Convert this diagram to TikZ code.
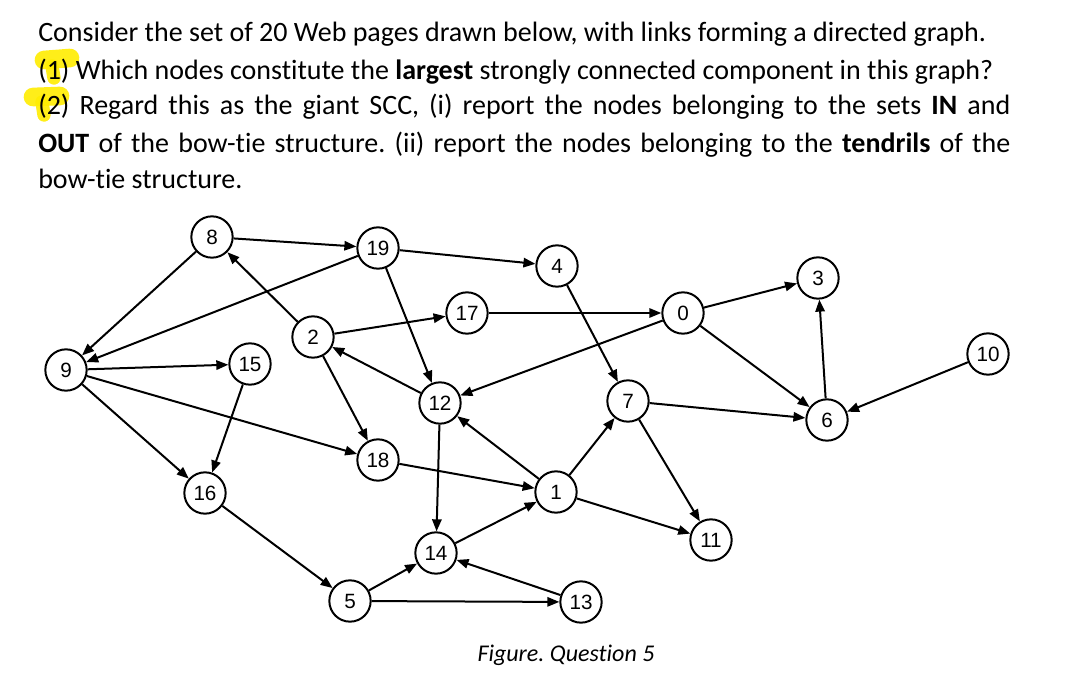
\documentclass[tikz,border=0pt]{standalone}
\usepackage{fontspec}
\setmainfont{Carlito}[Ligatures=NoCommon]
\newfontfamily\nodefont{Liberation Sans}
\usetikzlibrary{arrows.meta}
\frenchspacing
\begin{document}
\begin{tikzpicture}[x=0.75pt,y=-0.75pt,
  v/.style={circle,draw,line width=1.5pt,minimum size=31pt,inner sep=0pt,font=\nodefont\fontsize{15.5}{17}\selectfont},
  e/.style={line width=1.5pt,-{Triangle[length=9pt,width=7pt]}},
  tl/.style={anchor=base west,inner sep=0pt,font=\fontsize{21}{25}\selectfont},
  hl/.style={yellow!95!orange,line width=14pt,line cap=round,opacity=0.9}]
\useasboundingbox (0,0) rectangle (1083,685);
\fill[white] (0,0) rectangle (1083,685);
% highlights
\draw[hl] (44,60) -- (70,58);
\draw[hl] (33,97) -- (60,96);
\draw[hl,line width=10pt] (52,66) -- (54,78);
\draw[hl,line width=10pt] (42,102) -- (44,115);
% text
\node[tl] (t1) at (38,42) {Consider the set of 20 Web pages drawn below, with links forming a directed graph.};
\node[tl] (t2) at (38,80) {(1) Which nodes constitute the \textbf{largest} strongly connected component in this graph?};
\node[tl,text width=729pt,align=justify] (t3) at (38,115) {{\parfillskip=0pt (2) Regard this as the giant SCC, (i) report the nodes belonging to the sets \textbf{IN} and\par}};
\node[tl,text width=729pt,align=justify] (t4) at (38,152) {{\parfillskip=0pt \textbf{OUT} of the bow-tie structure. (ii) report the nodes belonging to the \textbf{tendrils} of the\par}};
\node[tl] (t5) at (38,189) {bow-tie structure.};
\node[font=\itshape\fontsize{18}{20}\selectfont] (cap) at (566,655) {Figure. Question 5};
% nodes
\node[v] (n8) at (212,237) {8};
\node[v] (n19) at (378,248) {19};
\node[v] (n4) at (557,266) {4};
\node[v] (n3) at (818,278) {3};
\node[v] (n17) at (467,313) {17};
\node[v] (n0) at (683,313) {0};
\node[v] (n2) at (313,337) {2};
\node[v] (n9) at (66,370) {9};
\node[v] (n15) at (250,364) {15};
\node[v] (n10) at (988,354) {10};
\node[v] (n12) at (440,403) {12};
\node[v] (n7) at (628,401) {7};
\node[v] (n6) at (827,420) {6};
\node[v] (n18) at (378,460) {18};
\node[v] (n16) at (205,493) {16};
\node[v] (n1) at (556,492) {1};
\node[v] (n11) at (711,540) {11};
\node[v] (n14) at (436,553) {14};
\node[v] (n5) at (350,601) {5};
\node[v] (n13) at (581,602) {13};
% edges
\draw[e] (n8) -- (n19);
\draw[e] (n19) -- (n4);
\draw[e] (n8) -- (n9);
\draw[e] (n19) -- (n9);
\draw[e] (n2) -- (n8);
\draw[e] (n2) -- (n17);
\draw[e] (n17) -- (n0);
\draw[e] (n0) -- (n3);
\draw[e] (n0) -- (n6);
\draw[e] (n6) -- (n3);
\draw[e] (n10) -- (n6);
\draw[e] (n9) -- (n15);
\draw[e] (n9) -- (n18);
\draw[e] (n9) -- (n16);
\draw[e] (n15) -- (n16);
\draw[e] (n2) -- (n18);
\draw[e] (n12) -- (n2);
\draw[e] (n19) -- (n12);
\draw[e] (n0) -- (n12);
\draw[e] (n12) -- (n14);
\draw[e] (n4) -- (n7);
\draw[e] (n7) -- (n6);
\draw[e] (n7) -- (n11);
\draw[e] (n1) -- (n7);
\draw[e] (n1) -- (n12);
\draw[e] (n18) -- (n1);
\draw[e] (n1) -- (n11);
\draw[e] (n14) -- (n1);
\draw[e] (n16) -- (n5);
\draw[e] (n5) -- (n14);
\draw[e] (n5) -- (n13);
\draw[e] (n13) -- (n14);
\end{tikzpicture}
\end{document}
